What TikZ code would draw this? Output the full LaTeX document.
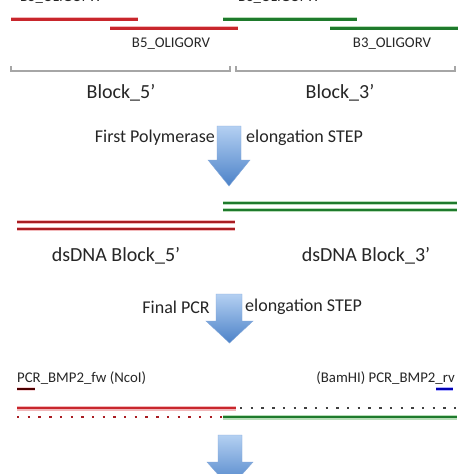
\documentclass[tikz,border=0pt]{standalone}
\usepackage{fontspec}
\setmainfont{Carlito}
\definecolor{txt}{HTML}{262626}
\definecolor{rline}{HTML}{C8262C}
\definecolor{rdark}{HTML}{A81C22}
\definecolor{rglow}{HTML}{F2B8BA}
\definecolor{gline}{HTML}{1E7A2C}
\definecolor{gglow}{HTML}{B8DDB8}
\definecolor{grayb}{HTML}{A6A6A6}
\definecolor{arrtop}{HTML}{B4D0F2}
\definecolor{arrbot}{HTML}{4C82C8}
\begin{document}
\begin{tikzpicture}[x=1pt,y=-1pt,
  lbl/.style={text=txt,inner sep=0pt},
  small/.style={lbl,font=\fontsize{14.8}{16}\selectfont},
  big/.style={lbl,font=\fontsize{20}{22}\selectfont},
  mid/.style={lbl,font=\fontsize{18}{20}\selectfont},
  redl/.style={draw=rline,line width=3pt},
  greenl/.style={draw=gline,line width=3pt},
  glowr/.style={draw=rglow,line width=4.5pt},
  glowg/.style={draw=gglow,line width=4.5pt},
  bracket/.style={draw=grayb,line width=2.5pt},
  dotsk/.style={draw=black!75,line width=2.4pt,dash pattern=on 2.4pt off 8.3pt},
  dotsr/.style={draw=rdark,line width=2.4pt,dash pattern=on 2.4pt off 8.3pt},
  bigarrow/.style={top color=arrtop,bottom color=arrbot,draw=arrbot!70,line width=0.4pt}
]
\useasboundingbox (0,0) rectangle (474,474);
\fill[white] (0,0) rectangle (474,474);

% ---- oligos
\node[small] (b5fw) at (61,-2) {B5\_OLIGOFW};
\node[small] (b3fw) at (279,-2) {B3\_OLIGOFW};
\coordinate (r1a) at (11,19); \coordinate (r1b) at (138,19);
\coordinate (r2a) at (110,28); \coordinate (r2b) at (238,28);
\coordinate (g1a) at (223,19); \coordinate (g1b) at (357,19);
\coordinate (g2a) at (330,28); \coordinate (g2b) at (458,28);
\draw[glowr] (r1a) -- (r1b);
\draw[redl] (r1a) -- (r1b);
\draw[glowr] (r2a) -- (r2b);
\draw[redl] (r2a) -- (r2b);
\draw[glowg] (g1a) -- (g1b);
\draw[greenl] (g1a) -- (g1b);
\draw[glowg] (g2a) -- (g2b);
\draw[greenl] (g2a) -- (g2b);
\node[small] (b5rv) at (171,44) {B5\_OLIGORV};
\node[small] (b3rv) at (392,44) {B3\_OLIGORV};

% ---- brackets
\draw[bracket] (11,66) -- (11,71) -- (230,71) -- (230,66);
\draw[bracket] (236,66) -- (236,71) -- (455,71) -- (455,66);
\node[big] (blk5) at (121,93) {Block\_5’};
\node[big] (blk3) at (340,93) {Block\_3’};

% ---- first step
\node[mid,anchor=east] (fp) at (215,138) {First Polymerase};
\node[mid,anchor=west] (el1) at (246,138) {elongation STEP};
\path[bigarrow] (217,126) -- (241,126) -- (241,160) -- (250,160) -- (229,186) -- (208,160) -- (217,160) -- cycle;

% ---- dsDNA
\foreach \yy in {203,210} {
  \draw[glowg] (223,\yy) -- (457,\yy);
}
\draw[gline,line width=2.4pt] (223,203) -- (457,203);
\draw[gline,line width=2.4pt] (223,210) -- (457,210);
\foreach \yy in {222,229} {
  \draw[glowr] (17,\yy) -- (235,\yy);
}
\draw[rdark,line width=2.4pt] (17,222) -- (235,222);
\draw[rdark,line width=2.4pt] (17,229) -- (235,229);
\node[big] (ds5) at (116,256) {dsDNA Block\_5’};
\node[big] (ds3) at (366,256) {dsDNA Block\_3’};

% ---- final PCR
\node[mid,anchor=east] (fpcr) at (210,307) {Final PCR};
\node[mid,anchor=west] (el2) at (245,307) {elongation STEP};
\path[bigarrow] (216,294) -- (242,294) -- (242,321) -- (253,321) -- (229.5,343) -- (206,321) -- (216,321) -- cycle;

\node[small,anchor=west] (pfw) at (17,378) {PCR\_BMP2\_fw (NcoI)};
\node[small,anchor=east] (prv) at (455,378) {(BamHI) PCR\_BMP2\_rv};
\draw[draw=rglow!60,line width=4pt] (17,389) -- (35,389);
\draw[draw=black!70!red,line width=2.6pt] (17,389) -- (35,389);
\draw[draw=blue!30,line width=4pt] (436,389) -- (453,389);
\draw[draw=blue!70!black,line width=2.6pt] (436,389) -- (453,389);

\coordinate (m1) at (236,408);
\draw[glowr,line width=5pt] (17,408) -- (m1);
\draw[rline,line width=2.6pt] (17,408) -- (m1);
\draw[dotsk] (240,408) -- (458,408);
\draw[dotsr] (17,417) -- (222,417);
\draw[glowg,line width=5pt] (223,417) -- (457,417);
\draw[gline,line width=2.6pt] (223,417) -- (457,417);

% ---- last arrow
\path[bigarrow] (218,435) -- (242,435) -- (242,462) -- (253,462) -- (230,488) -- (207,462) -- (218,462) -- cycle;
\end{tikzpicture}
\end{document}
